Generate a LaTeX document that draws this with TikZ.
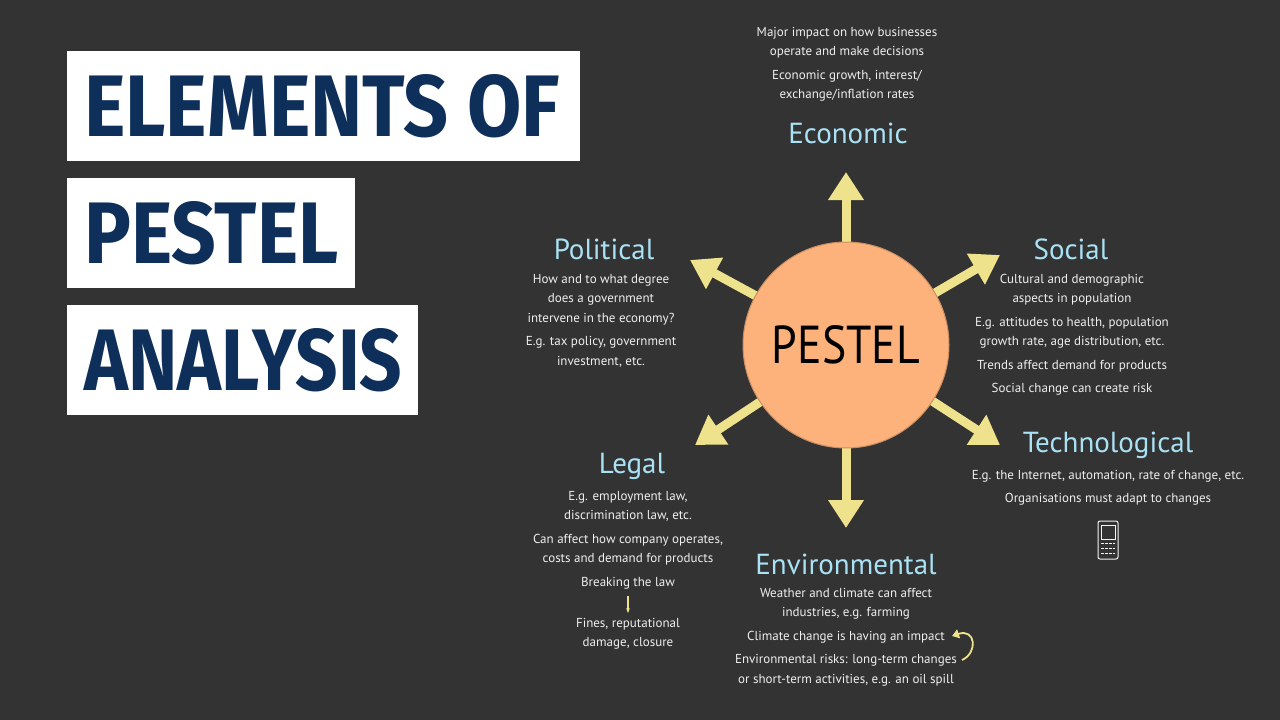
\documentclass[tikz,border=0pt]{standalone}
\usepackage{fontspec}
\setmainfont{PT Sans}
\newfontfamily\titlefont{Fira Sans}
\usetikzlibrary{arrows.meta}
\definecolor{bg}{HTML}{333333}
\definecolor{navy}{HTML}{0D2F5A}
\definecolor{ttl}{HTML}{A9E1F5}
\definecolor{txt}{HTML}{EFEFEF}
\definecolor{arr}{HTML}{EEE38C}
\definecolor{orng}{HTML}{FDB27C}
\tikzset{
 head/.style={text=ttl,font=\fontsize{29}{30}\selectfont},
 body/.style={text=txt,font=\fontsize{13}{19.5}\selectfont,align=center,inner sep=0pt},
 bigarr/.style={arr,line width=9pt,-{Triangle[width=34pt,length=28pt]}},
}
\begin{document}
\begin{tikzpicture}[x=1pt,y=-1pt]
\fill[bg] (0,0) rectangle (1280,720);
\useasboundingbox (0,0) rectangle (1280,720);
% title
\fill[white] (67,51) rectangle (580,161);
\fill[white] (67,178) rectangle (355,288);
\fill[white] (67,305) rectangle (418,415);
\node[anchor=west,inner sep=0pt,text=navy] (t1) at (84,106) {\resizebox{476pt}{62pt}{\titlefont\fontseries{sb}\selectfont ELEMENTS OF}};
\node[anchor=west,inner sep=0pt,text=navy] (t2) at (84,233) {\resizebox{254pt}{62pt}{\titlefont\fontseries{sb}\selectfont PESTEL}};
\node[anchor=west,inner sep=0pt,text=navy] (t3) at (84,360) {\resizebox{318pt}{62pt}{\titlefont\fontseries{sb}\selectfont ANALYSIS}};
% arrows
\coordinate (c) at (846,345);
\coordinate (eU) at (846,172);
\coordinate (eUR) at (1000,255);
\coordinate (eDR) at (1000,445);
\coordinate (eD) at (846,528);
\coordinate (eDL) at (695,445);
\coordinate (eUL) at (690,260);
\foreach \e in {eU,eUR,eDR,eD,eDL,eUL} \draw[bigarr] (c) -- (\e);
\node[circle,fill=orng,draw=orng!80!black,line width=1pt,minimum size=206pt] (p) at (c) {};
\node[text=black] (pt) at (c) {\resizebox{148pt}{38pt}{PESTEL}};
% Economic
\node[head] (eco) at (848,133) {Economic};
\node[body,anchor=north] (ecot) at (847,27) {Major impact on how businesses\\ operate and make decisions\\[4pt] Economic growth, interest/\\ exchange/inflation rates};
% Political
\node[head] (pol) at (604,249) {Political};
\node[body,anchor=north] (polt) at (601,274) {How and to what degree\\ does a government\\ intervene in the economy?\\[4pt] E.g. tax policy, government\\ investment, etc.};
% Social
\node[head] (soc) at (1071,249) {Social};
\node[body,anchor=north] (soct) at (1072,274) {Cultural and demographic\\ aspects in population\\[4pt] E.g. attitudes to health, population\\ growth rate, age distribution, etc.\\[4pt] Trends affect demand for products\\[4pt] Social change can create risk};
% Technological
\node[head] (tec) at (1108,445) {Technological};
\node[body,anchor=north] (tect) at (1108,470) {E.g. the Internet, automation, rate of change, etc.\\[4pt] Organisations must adapt to changes};
\draw[txt!80,line width=1pt,rounded corners=2pt] (1098,521) rectangle (1118,559);
\draw[txt!70,line width=0.8pt] (1101,525) rectangle (1115,539);
\foreach \yy in {543,548,553} \draw[txt!70,line width=0.8pt,dash pattern=on 3pt off 1pt] (1101,\yy) -- (1115,\yy);
% Legal
\node[head] (leg) at (632,466) {Legal};
\node[body,anchor=north] (legt) at (628,491) {E.g. employment law,\\ discrimination law, etc.\\[4pt] Can affect how company operates,\\ costs and demand for products\\[4pt] Breaking the law};
\node[body,anchor=north] (legf) at (628,618) {Fines, reputational\\ damage, closure};
\coordinate (la) at (628,596);
\coordinate (lb) at (628,613);
\draw[arr,line width=1.3pt,-{Stealth[length=5pt]}] (la) -- (lb);
% Environmental
\node[head] (env) at (846,564) {Environmental};
\node[body,anchor=north] (envt) at (846,588) {Weather and climate can affect\\ industries, e.g. farming\\[4pt] Climate change is having an impact\\[4pt] Environmental risks: long-term changes\\ or short-term activities, e.g. an oil spill};
\coordinate (ca) at (962,660);
\coordinate (cb) at (952,636);
\draw[arr,line width=1.8pt,-{Triangle[width=9pt,length=7pt]}] (ca) .. controls (978,653) and (976,628) .. (cb);
\end{tikzpicture}
\end{document}
